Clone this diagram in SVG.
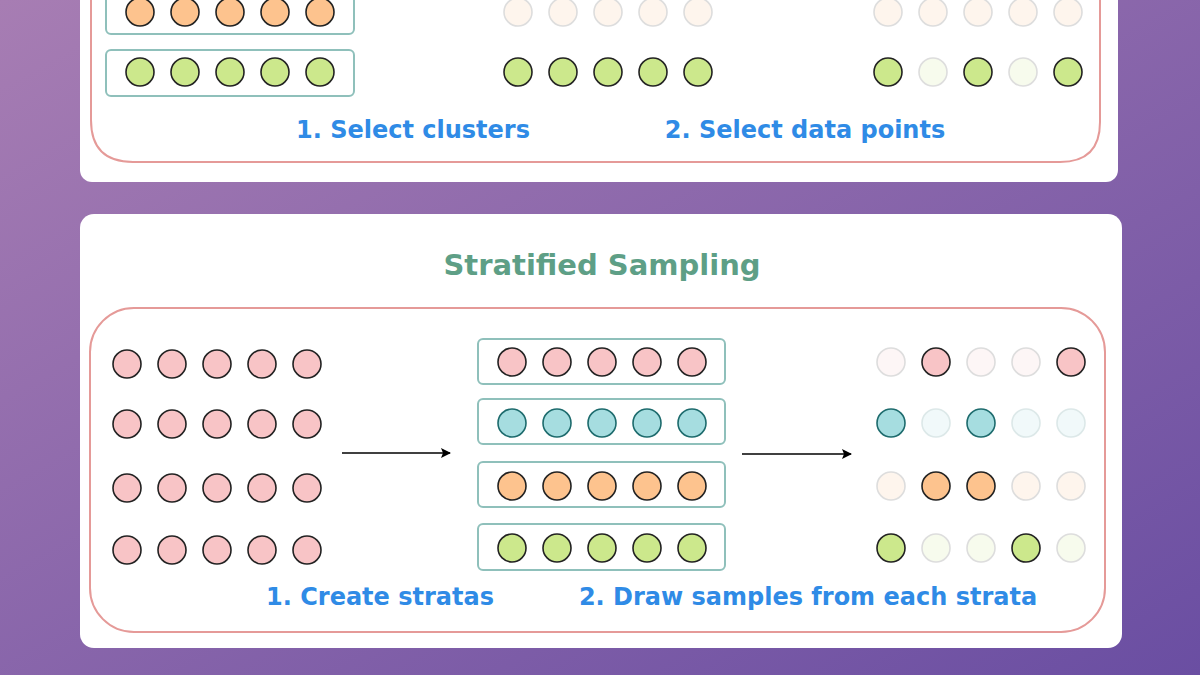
<svg xmlns="http://www.w3.org/2000/svg" width="1200" height="675" viewBox="0 0 1200 675">
<defs>
<linearGradient id="bg" x1="0" y1="0" x2="1" y2="1"><stop offset="0" stop-color="#a77db3"/><stop offset="1" stop-color="#6a4ea2"/></linearGradient>
<marker id="ah" viewBox="0 0 10 10" refX="9" refY="5" markerWidth="10" markerHeight="10" markerUnits="userSpaceOnUse" orient="auto"><path d="M0,0 L10,5 L0,10 L2,5 Z" fill="#000"/></marker>
<style>
circle{stroke-width:1.6}
.p{fill:#f8c4c6;stroke:#222}
.t{fill:#a6dde0;stroke:#1d6b6d}
.o{fill:#fdc38e;stroke:#222}
.g{fill:#cce88c;stroke:#222}
.f{opacity:0.15}
.box{fill:none;stroke:#8fc0bb;stroke-width:2}
.frame{fill:none;stroke:#e59a98;stroke-width:2}
.lbl{font-family:"DejaVu Sans",sans-serif;font-weight:bold;font-size:24px;fill:#2f8be6;text-anchor:middle}
.card{fill:#fff}
</style>
</defs>
<rect width="1200" height="675" fill="url(#bg)"/>
<g id="card-top">
<rect class="card" x="80" y="-20" width="1038" height="202" rx="12"/>
<path class="frame" d="M91,-10 V120 Q91,162 133,162 H1060 Q1100,162 1100,122 V-10"/>
<rect class="box" x="106" y="-12" width="248" height="46" rx="5"/>
<rect class="box" x="106" y="50" width="248" height="46" rx="5"/>
<g><circle class="o" cx="140" cy="12" r="14"/><circle class="o" cx="185" cy="12" r="14"/><circle class="o" cx="230" cy="12" r="14"/><circle class="o" cx="275" cy="12" r="14"/><circle class="o" cx="320" cy="12" r="14"/></g>
<g><circle class="g" cx="140" cy="72" r="14"/><circle class="g" cx="185" cy="72" r="14"/><circle class="g" cx="230" cy="72" r="14"/><circle class="g" cx="275" cy="72" r="14"/><circle class="g" cx="320" cy="72" r="14"/></g>
<g class="f"><circle class="o" cx="518" cy="12" r="14"/><circle class="o" cx="563" cy="12" r="14"/><circle class="o" cx="608" cy="12" r="14"/><circle class="o" cx="653" cy="12" r="14"/><circle class="o" cx="698" cy="12" r="14"/></g>
<g><circle class="g" cx="518" cy="72" r="14"/><circle class="g" cx="563" cy="72" r="14"/><circle class="g" cx="608" cy="72" r="14"/><circle class="g" cx="653" cy="72" r="14"/><circle class="g" cx="698" cy="72" r="14"/></g>
<g class="f"><circle class="o" cx="888" cy="12" r="14"/><circle class="o" cx="933" cy="12" r="14"/><circle class="o" cx="978" cy="12" r="14"/><circle class="o" cx="1023" cy="12" r="14"/><circle class="o" cx="1068" cy="12" r="14"/></g>
<circle class="g" cx="888" cy="72" r="14"/><circle class="g f" cx="933" cy="72" r="14"/><circle class="g" cx="978" cy="72" r="14"/><circle class="g f" cx="1023" cy="72" r="14"/><circle class="g" cx="1068" cy="72" r="14"/>
<text class="lbl" x="413" y="138">1. Select clusters</text>
<text class="lbl" x="805" y="138">2. Select data points</text>
</g>
<g id="card-bottom">
<rect class="card" x="80" y="214" width="1042" height="434" rx="14"/>
<text x="602" y="275" text-anchor="middle" font-family="DejaVu Sans,sans-serif" font-weight="bold" font-size="29" fill="#5e9f86">Stratified Sampling</text>
<rect class="frame" x="90" y="308" width="1015" height="324" rx="44"/>
<g id="grid">
<g><circle class="p" cx="127" cy="364" r="14"/><circle class="p" cx="172" cy="364" r="14"/><circle class="p" cx="217" cy="364" r="14"/><circle class="p" cx="262" cy="364" r="14"/><circle class="p" cx="307" cy="364" r="14"/></g>
<g><circle class="p" cx="127" cy="424" r="14"/><circle class="p" cx="172" cy="424" r="14"/><circle class="p" cx="217" cy="424" r="14"/><circle class="p" cx="262" cy="424" r="14"/><circle class="p" cx="307" cy="424" r="14"/></g>
<g><circle class="p" cx="127" cy="488" r="14"/><circle class="p" cx="172" cy="488" r="14"/><circle class="p" cx="217" cy="488" r="14"/><circle class="p" cx="262" cy="488" r="14"/><circle class="p" cx="307" cy="488" r="14"/></g>
<g><circle class="p" cx="127" cy="550" r="14"/><circle class="p" cx="172" cy="550" r="14"/><circle class="p" cx="217" cy="550" r="14"/><circle class="p" cx="262" cy="550" r="14"/><circle class="p" cx="307" cy="550" r="14"/></g>
</g>
<g id="strata">
<rect class="box" x="478" y="339" width="247" height="45" rx="5"/>
<rect class="box" x="478" y="399" width="247" height="45" rx="5"/>
<rect class="box" x="478" y="462" width="247" height="45" rx="5"/>
<rect class="box" x="478" y="524" width="247" height="46" rx="5"/>
<g><circle class="p" cx="512" cy="362" r="14"/><circle class="p" cx="557" cy="362" r="14"/><circle class="p" cx="602" cy="362" r="14"/><circle class="p" cx="647" cy="362" r="14"/><circle class="p" cx="692" cy="362" r="14"/></g>
<g><circle class="t" cx="512" cy="423" r="14"/><circle class="t" cx="557" cy="423" r="14"/><circle class="t" cx="602" cy="423" r="14"/><circle class="t" cx="647" cy="423" r="14"/><circle class="t" cx="692" cy="423" r="14"/></g>
<g><circle class="o" cx="512" cy="486" r="14"/><circle class="o" cx="557" cy="486" r="14"/><circle class="o" cx="602" cy="486" r="14"/><circle class="o" cx="647" cy="486" r="14"/><circle class="o" cx="692" cy="486" r="14"/></g>
<g><circle class="g" cx="512" cy="548" r="14"/><circle class="g" cx="557" cy="548" r="14"/><circle class="g" cx="602" cy="548" r="14"/><circle class="g" cx="647" cy="548" r="14"/><circle class="g" cx="692" cy="548" r="14"/></g>
</g>
<g id="samples">
<circle class="p f" cx="891" cy="362" r="14"/><circle class="p" cx="936" cy="362" r="14"/><circle class="p f" cx="981" cy="362" r="14"/><circle class="p f" cx="1026" cy="362" r="14"/><circle class="p" cx="1071" cy="362" r="14"/>
<circle class="t" cx="891" cy="423" r="14"/><circle class="t f" cx="936" cy="423" r="14"/><circle class="t" cx="981" cy="423" r="14"/><circle class="t f" cx="1026" cy="423" r="14"/><circle class="t f" cx="1071" cy="423" r="14"/>
<circle class="o f" cx="891" cy="486" r="14"/><circle class="o" cx="936" cy="486" r="14"/><circle class="o" cx="981" cy="486" r="14"/><circle class="o f" cx="1026" cy="486" r="14"/><circle class="o f" cx="1071" cy="486" r="14"/>
<circle class="g" cx="891" cy="548" r="14"/><circle class="g f" cx="936" cy="548" r="14"/><circle class="g f" cx="981" cy="548" r="14"/><circle class="g" cx="1026" cy="548" r="14"/><circle class="g f" cx="1071" cy="548" r="14"/>
</g>
<g id="connectors" stroke="#000" stroke-width="1.6">
<line x1="342" y1="453" x2="450" y2="453" marker-end="url(#ah)"/>
<line x1="742" y1="454" x2="851" y2="454" marker-end="url(#ah)"/>
</g>
<text class="lbl" x="380" y="605">1. Create stratas</text>
<text class="lbl" x="808" y="605">2. Draw samples from each strata</text>
</g>
</svg>
